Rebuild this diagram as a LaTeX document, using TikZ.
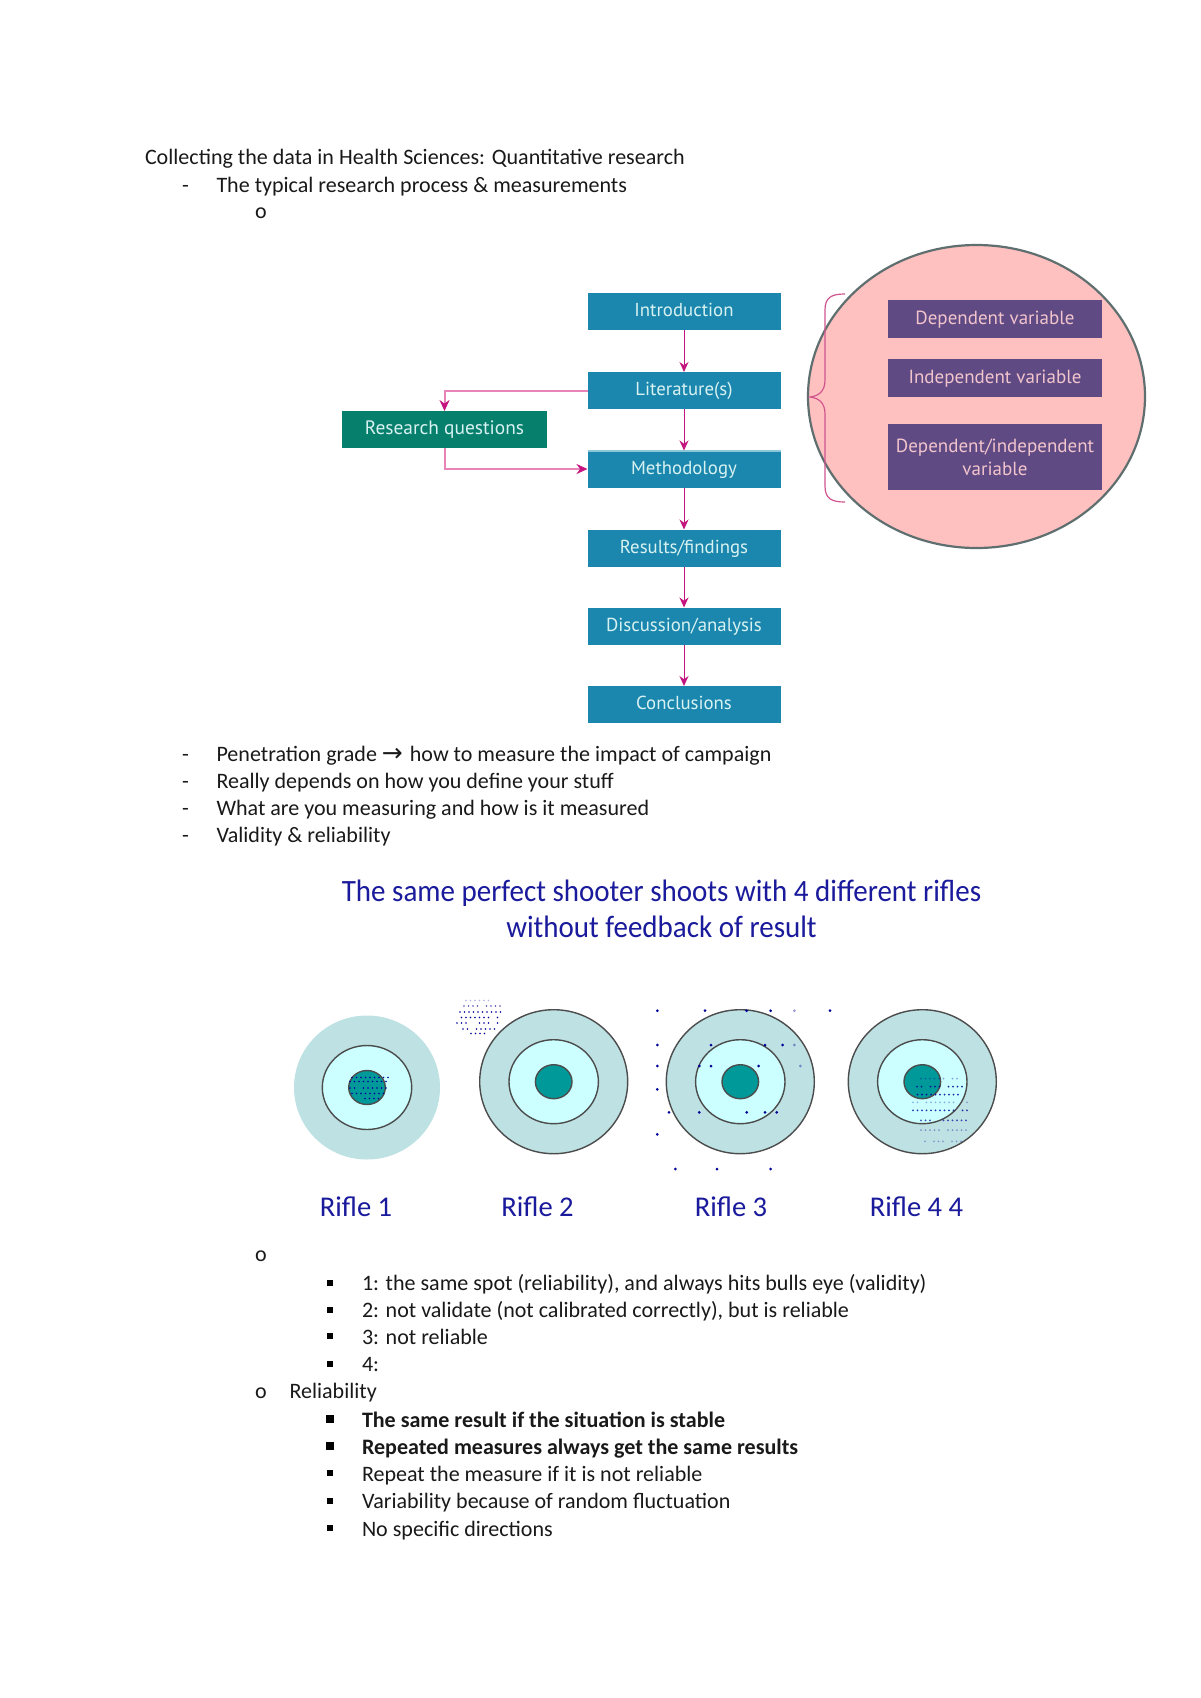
\documentclass[tikz,border=0pt]{standalone}
\usepackage{fontspec}
\setmainfont{Carlito}
\newfontfamily\boxfont{PT Sans}
\usetikzlibrary{arrows.meta}
\definecolor{flowblue}{HTML}{1B87AE}
\definecolor{flowgreen}{HTML}{067F6C}
\definecolor{flowpurple}{HTML}{5F4A84}
\definecolor{flowpink}{HTML}{FFC0C0}
\definecolor{flowarrow}{HTML}{C4157E}
\definecolor{sideline}{HTML}{E884BA}
\definecolor{bracepink}{HTML}{D0558F}
\definecolor{ringgrey}{HTML}{5F6F6F}
\definecolor{titleblue}{HTML}{1A1A9C}
\definecolor{tgtouter}{HTML}{BEE1E3}
\definecolor{tgtmid}{HTML}{CCFFFF}
\definecolor{tgtin}{HTML}{009999}
\definecolor{paletext}{HTML}{D8F2F2}
\definecolor{pinktext}{HTML}{F2C4CC}
\definecolor{shotcol}{HTML}{000099}
\tikzset{
  x=0.5pt,y=-0.5pt,
  doc/.style={anchor=base west,inner sep=0pt,outer sep=0pt,font=\fontsize{11.02}{13}\selectfont,text=black!90},
  docb/.style={doc,font=\fontsize{11.02}{13}\selectfont\bfseries},
  fbox/.style={minimum width=96.5pt,minimum height=18.5pt,inner sep=0pt,outer sep=0pt,fill=flowblue,text=paletext,text height=7pt,text depth=2pt,font=\boxfont\fontsize{9.4}{11}\selectfont},
  gbox/.style={fbox,minimum width=102.5pt,fill=flowgreen,font=\boxfont\fontsize{9.7}{11}\selectfont},
  pbox/.style={minimum width=107pt,inner sep=0pt,outer sep=0pt,fill=flowpurple,text=pinktext,align=center,font=\boxfont\fontsize{9.5}{11.5}\selectfont},
  pone/.style={pbox,minimum height=19pt,text height=7pt,text depth=1.5pt},
  flow/.style={draw=flowarrow,line width=0.5pt,-{Stealth[length=5pt,width=4.5pt,color=flowarrow]}},
  sideflow/.style={draw=sideline,line width=1pt,-{Stealth[length=5.5pt,width=5pt,color=flowarrow]}},
  outerr/.style={fill=tgtouter,draw=black!70,line width=0.7pt},
  midr/.style={fill=tgtmid,draw=black!70,line width=0.7pt},
  innerr/.style={fill=tgtin,draw=black!70,line width=0.7pt},
  shot/.style={fill=shotcol},
  rlabel/.style={anchor=base,inner sep=0pt,text=titleblue,font=\fontsize{14.3}{16}\selectfont},
  ttitle/.style={anchor=base,inner sep=0pt,text=titleblue,font=\fontsize{15.5}{18}\selectfont}
}
\newcommand{\shotrow}[5]{% y, x from, x to, opacity, radius
  \pgfmathtruncatemacro{\nshots}{round((#3-#2)/4.5)}
  \foreach \ii in {0,...,\nshots}{
    \pgfmathsetmacro{\px}{#2+\ii*4.5}
    \pgfmathsetmacro{\keep}{rnd}
    \ifdim\keep pt>0.1pt
      \fill[shot,opacity=#4] (\px,#1) circle [radius=#5];
    \fi
  }
}
\begin{document}
\begin{tikzpicture}
\useasboundingbox (0,0) rectangle (1200,1698);
\fill[white] (0,0) rectangle (1200,1698);
\pgfmathsetseed{7}
% heading lines
\node[doc] (h1) at (145,164) {Collecting the data in Health Sciences: Quantitative research};
\node[doc] (d1) at (182,192.5) {-};
\node[doc] (h2) at (216.5,192.5) {The typical research process \& measurements};
\node[doc] (o1) at (255,218.5) {o};
% flowchart
\node[fbox] (intro) at (684,311.5) {Introduction};
\node[fbox] (lit) at (684,390.5) {Literature(s)};
\node[fbox] (meth) at (684,469) {Methodology};
\node[fbox] (res) at (684,548) {Results/findings};
\node[fbox] (disc) at (684,626) {Discussion/analysis};
\node[fbox] (conc) at (684,704.5) {Conclusions};
\node[gbox] (rq) at (444.5,429.5) {Research questions};
\draw[paletext!60!flowblue,line width=1pt] (meth.north west) -- (meth.north east);
\draw[flow] (intro) -- (lit);
\draw[flow] (lit) -- (meth);
\draw[flow] (meth) -- (res);
\draw[flow] (res) -- (disc);
\draw[flow] (disc) -- (conc);
\draw[sideflow] (lit.west) -| (rq.north);
\draw[sideflow] (rq.south) |- (meth.west);
% ellipse
\path[fill=flowpink,draw=ringgrey,line width=1.1pt] (976.5,396.5) ellipse [x radius=168.5,y radius=151.5];
\node[pone] (dv) at (995,319) {Dependent variable};
\node[pone] (iv) at (995,378) {Independent variable};
\node[pbox,minimum height=33pt] (div) at (995,457) {Dependent/independent\\variable};
\draw[bracepink,line width=0.6pt] (845,294) .. controls (832,294) and (825,297) .. (825,310) -- (825,380) .. controls (825,392) and (818,396) .. (810,397) .. controls (818,398) and (825,402) .. (825,414) -- (825,486) .. controls (825,499) and (832,502) .. (845,502);
% lines below
\node[doc] (d2) at (182,761.5) {-};
\node[doc] (t2) at (216.5,761.5) {Penetration grade {\fontspec{DejaVu Sans}\fontsize{12.5}{12}\selectfont →}\kern1pt{} how to measure the impact of campaign};
\node[doc] (d3) at (182,788.5) {-};
\node[doc] (t3) at (216.5,788.5) {Really depends on how you define your stuff};
\node[doc] (d4) at (182,815) {-};
\node[doc] (t4) at (216.5,815) {What are you measuring and how is it measured};
\node[doc] (d5) at (182,842.5) {-};
\node[doc] (t5) at (216.5,842.5) {Validity \& reliability};
% title
\node[ttitle] (tt1) at (661.5,901) {\scalebox{0.936}[1]{The same perfect shooter shoots with 4 different rifles}};
\node[ttitle] (tt2) at (661.5,937) {\scalebox{0.936}[1]{without feedback of result}};
% targets
\fill[tgtouter] (367,1087.5) ellipse [x radius=73,y radius=72];
\path[midr] (367,1087.5) ellipse [x radius=44.7,y radius=42];
\path[innerr] (367,1087.5) ellipse [x radius=18.3,y radius=17];
\foreach \cx in {553.7,740.3,922.3}{
  \path[outerr] (\cx,1081.7) ellipse [x radius=74,y radius=72];
  \path[midr] (\cx,1081.7) ellipse [x radius=44.7,y radius=42];
  \path[innerr] (\cx,1081.7) ellipse [x radius=18.3,y radius=17];
}
% rifle 1 shots
\shotrow{1077.5}{352}{390}{1}{0.9}
\shotrow{1081.5}{350}{388}{1}{0.9}
\shotrow{1088}{350}{388}{1}{0.9}
\shotrow{1093.5}{352}{382}{1}{0.9}
\shotrow{1098.5}{365}{380}{1}{0.9}
% rifle 2 shots
\shotrow{1000.5}{466}{490}{0.3}{0.8}
\shotrow{1006}{464}{499}{0.7}{0.8}
\shotrow{1012}{460}{500}{1}{0.8}
\shotrow{1017.5}{457}{499}{1}{0.8}
\shotrow{1023}{457}{499}{1}{0.8}
\shotrow{1029}{463}{494}{1}{0.8}
\shotrow{1033.5}{471}{486}{1}{0.8}
% rifle 3 shots
\foreach \xx/\yy in {52/92,195/92,320/92,392/92,570/92,52/195,213/195,375/195,428/195,52/258,178/258,213/258,356/258,52/328,87/397,178/397,320/397,375/397,410/397,52/463,106/567,231/567,392/567}{
  \fill[shot] ({640+\xx/3},{980+\yy/3}) circle [radius=1.5];
}
\foreach \xx/\yy in {463/92,463/195,481/258}{
  \fill[shot,opacity=0.4] ({640+\xx/3},{980+\yy/3}) circle [radius=1.5];
}
% rifle 4 shots
\shotrow{1078.7}{921}{955}{0.35}{1}
\shotrow{1086.7}{917}{960}{0.85}{1}
\shotrow{1094.7}{913}{960}{0.85}{1}
\shotrow{1102.3}{913}{968}{0.3}{1}
\shotrow{1110.3}{913}{968}{0.8}{1}
\shotrow{1120.3}{921}{968}{0.7}{1}
\shotrow{1130}{921}{968}{0.35}{1}
\shotrow{1141.3}{925}{963}{0.3}{1}
\node[rlabel] (r1) at (356,1216) {Rifle 1};
\node[rlabel] (r2) at (537.5,1216) {Rifle 2};
\node[rlabel] (r3) at (731,1216) {Rifle 3};
\node[rlabel] (r4) at (916.5,1216) {Rifle 4 4};
% list
\node[doc] (o2) at (255,1261.5) {o};
\newcommand{\sqb}[2]{\fill[black] (330-#2,#1-8-#2) rectangle (330+#2,#1-8+#2);}
\node[doc] (l1) at (362,1290.5) {1: the same spot (reliability), and always hits bulls eye (validity)};
\node[doc] (l2) at (362,1317.5) {2: not validate (not calibrated correctly), but is reliable};
\node[doc] (l3) at (362,1344) {3: not reliable};
\node[doc] (l4) at (362,1371.5) {4:};
\node[doc] (o3) at (255,1398) {o};
\node[doc] (rel) at (289.5,1398) {Reliability};
\node[docb] (b1) at (362,1427) {The same result if the situation is stable};
\node[docb] (b2) at (362,1454) {Repeated measures always get the same results};
\node[doc] (l5) at (362,1481) {Repeat the measure if it is not reliable};
\node[doc] (l6) at (362,1508.5) {Variability because of random fluctuation};
\node[doc] (l7) at (362,1536) {No specific directions};
\foreach \yy in {1290.5,1317.5,1344,1371.5,1481,1508.5,1536}{\sqb{\yy}{3}}
\foreach \yy in {1427,1454}{\sqb{\yy}{3.7}}
\end{tikzpicture}
\end{document}
